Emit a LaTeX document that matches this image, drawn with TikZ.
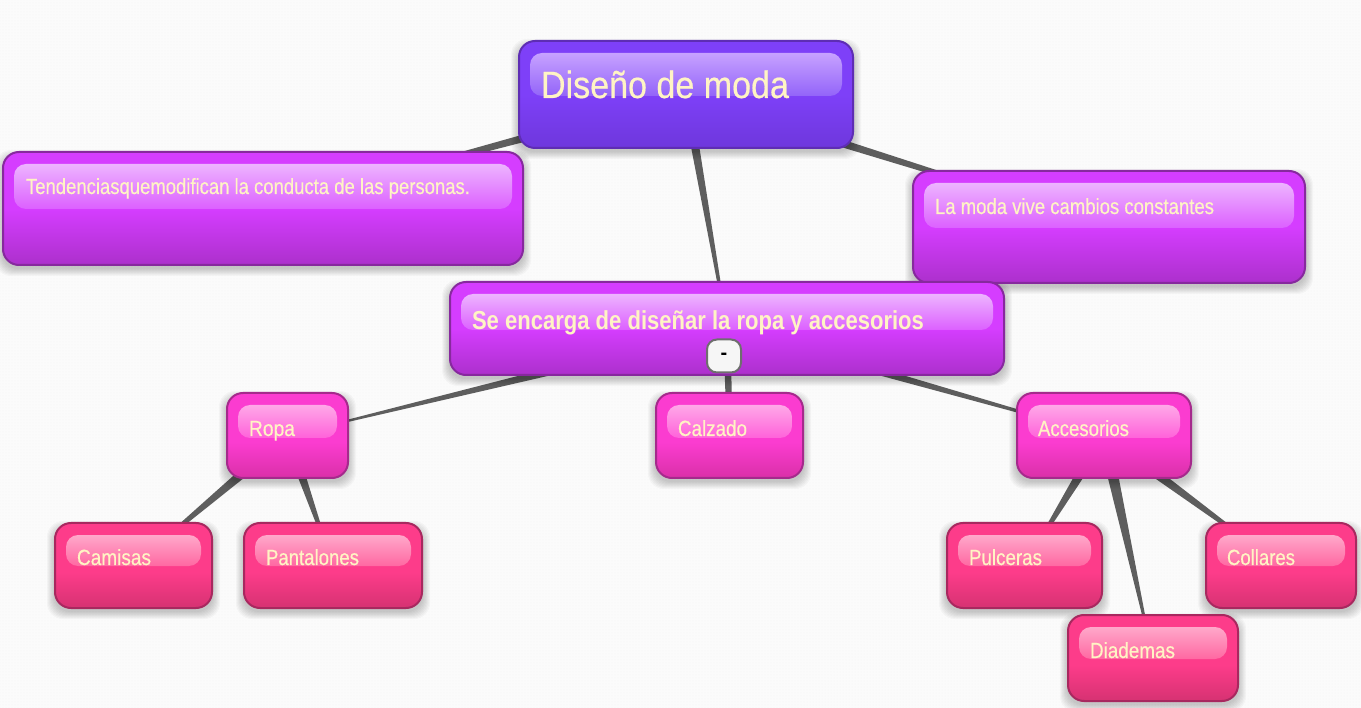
\documentclass[tikz,border=0pt]{standalone}
\usepackage{fontspec}
\setmainfont{Liberation Sans}
\newfontfamily\capfont[FakeBold=0.5]{Liberation Sans}
\usetikzlibrary{calc,backgrounds,patterns}
\pgfdeclarelayer{shadowlayer}
\pgfsetlayers{background,shadowlayer,main}
\definecolor{paper}{HTML}{FBFBFB}
\definecolor{grain}{HTML}{F5F5F5}
\definecolor{cream}{HTML}{FFF4C4}
\definecolor{linkgray}{HTML}{5E5E5E}
\definecolor{HTMLp1}{HTML}{5E2DB4}\definecolor{HTMLp2}{HTML}{7E40F8}\definecolor{HTMLp3}{HTML}{6E37DC}
\definecolor{HTMLp4}{HTML}{C7A2FF}\definecolor{HTMLp5}{HTML}{9364F9}
\definecolor{HTMLv1}{HTML}{87299E}\definecolor{HTMLv2}{HTML}{D53DFF}\definecolor{HTMLv3}{HTML}{AC30CC}
\definecolor{HTMLv4}{HTML}{EDB4FF}\definecolor{HTMLv5}{HTML}{DC60FF}
\definecolor{HTMLm1}{HTML}{A52A8C}\definecolor{HTMLm2}{HTML}{FB3CD0}\definecolor{HTMLm3}{HTML}{DA30A8}
\definecolor{HTMLm4}{HTML}{FFA8E8}\definecolor{HTMLm5}{HTML}{FF62DA}
\definecolor{HTMLr1}{HTML}{A8285F}\definecolor{HTMLr2}{HTML}{FD3C8A}\definecolor{HTMLr3}{HTML}{D63272}
\definecolor{HTMLr4}{HTML}{FFA8CA}\definecolor{HTMLr5}{HTML}{FF68A2}
\definecolor{HTMLb1}{HTML}{6E6E6E}\definecolor{HTMLb2}{HTML}{F6F6F6}
\pgfdeclareverticalshading{purplefill}{100bp}{color(0bp)=(HTMLp3);color(25bp)=(HTMLp3);color(50bp)=(HTMLp2);color(75bp)=(HTMLp2);color(100bp)=(HTMLp2)}
\pgfdeclareverticalshading{violetfill}{100bp}{color(0bp)=(HTMLv3);color(25bp)=(HTMLv3);color(50bp)=(HTMLv2);color(75bp)=(HTMLv2);color(100bp)=(HTMLv2)}
\pgfdeclareverticalshading{magentafill}{100bp}{color(0bp)=(HTMLm3);color(25bp)=(HTMLm3);color(46bp)=(HTMLm2);color(75bp)=(HTMLm2);color(100bp)=(HTMLm2)}
\pgfdeclareverticalshading{rosefill}{100bp}{color(0bp)=(HTMLr3);color(25bp)=(HTMLr3);color(46bp)=(HTMLr2);color(75bp)=(HTMLr2);color(100bp)=(HTMLr2)}
\tikzset{
  x=1pt,y=-1pt,
  plate/.style={rounded corners=16pt,inner sep=0pt,outer sep=0pt,line width=2pt,shade},
  purple/.style={plate,draw=HTMLp1,shading=purplefill},
  violet/.style={plate,draw=HTMLv1,shading=violetfill},
  magenta/.style={plate,draw=HTMLm1,shading=magentafill},
  rose/.style={plate,draw=HTMLr1,shading=rosefill},
  sheen/.style={rounded corners=12pt,inner sep=0pt,outer sep=0pt,draw=none},
  purplesheen/.style={sheen,top color=HTMLp4,bottom color=HTMLp5},
  violetsheen/.style={sheen,top color=HTMLv4,bottom color=HTMLv5},
  magentasheen/.style={sheen,top color=HTMLm4,bottom color=HTMLm5},
  rosesheen/.style={sheen,top color=HTMLr4,bottom color=HTMLr5},
  caption/.style={anchor=base west,inner sep=0pt,outer sep=0pt,text=cream},
  link/.style={fill=linkgray,draw=none},
  toggle/.style={rounded corners=10pt,draw=HTMLb1,line width=2pt,fill=HTMLb2,inner sep=0pt,
    minimum width=34pt,minimum height=33pt},
}
% name, level, x1, y1, x2, y2, sheen height
\newcommand{\mapbox}[7]{%
  \begin{pgfonlayer}{shadowlayer}
    \foreach \s in {1,...,8}{
      \fill[black,opacity=.028,rounded corners=16pt]
        ({#3-\s},{#4-\s+6}) rectangle ({#5+\s},{#6+\s+3});
    }
  \end{pgfonlayer}
  \node[#2,minimum width={(#5-(#3))*1pt},minimum height={(#6-(#4))*1pt}]
    (#1) at ({(#3+#5)/2},{(#4+#6)/2}) {};
  \node[#2sheen,minimum width={(#5-(#3)-22)*1pt},minimum height={#7*1pt}]
    (#1-sheen) at ({(#3+#5)/2},{#4+12+#7/2}) {};
}
% name, x, baseline y, font size, width, text
\newcommand{\mapcaption}[6]{%
  \node[caption] (#1-text) at (#2,#3)
    {\resizebox{#5pt}{\height}{\fontsize{#4}{#4}\selectfont #6}};
}
% from, to, half width at from, half width at to
\newcommand{\maplink}[4]{%
  \begin{pgfonlayer}{background}
    \path[link] ($(#1)!#3pt!90:(#2)$) -- ($(#1)!#3pt!-90:(#2)$)
      -- ($(#2)!#4pt!90:(#1)$) -- ($(#2)!#4pt!-90:(#1)$) -- cycle;
  \end{pgfonlayer}
}
\begin{document}
\begin{tikzpicture}
  \useasboundingbox (0,0) rectangle (1361,708);
  \begin{pgfonlayer}{background}
    \fill[paper] (0,0) rectangle (1361,708);
    \fill[pattern=dots,pattern color=grain] (0,0) rectangle (1361,708);
  \end{pgfonlayer}
  \mapbox{top}{purple}{519}{41}{853}{148}{43}
  \mapbox{trend}{violet}{3}{152}{523}{265}{45}
  \mapbox{change}{violet}{913}{171}{1305}{283}{45}
  \mapbox{mid}{violet}{450}{282}{1004}{375}{36}
  \mapbox{ropa}{magenta}{227}{393}{348}{478}{33}
  \mapbox{calzado}{magenta}{656}{393}{803}{478}{33}
  \mapbox{acc}{magenta}{1017}{393}{1191}{478}{33}
  \mapbox{camisas}{rose}{55}{523}{212}{608}{31}
  \mapbox{pant}{rose}{244}{523}{422}{608}{31}
  \mapbox{pulc}{rose}{947}{523}{1102}{608}{31}
  \mapbox{coll}{rose}{1206}{523}{1356}{608}{31}
  \mapbox{diad}{rose}{1068}{615}{1238}{701}{32}

  \mapcaption{top}{541}{98}{38}{248}{\capfont Diseño de moda}
  \mapcaption{trend}{26}{194}{22}{444}{\capfont Tendenciasquemodifican la conducta de las personas.}
  \mapcaption{change}{935}{214}{22}{279}{\capfont La moda vive cambios constantes}
  \mapcaption{mid}{472}{330}{26}{452}{\bfseries Se encarga de diseñar la ropa y accesorios}
  \mapcaption{ropa}{249}{436}{22}{46}{\capfont Ropa}
  \mapcaption{calzado}{678}{436}{22}{69}{\capfont Calzado}
  \mapcaption{acc}{1038}{436}{22}{91}{\capfont Accesorios}
  \mapcaption{camisas}{77}{565}{22}{74}{\capfont Camisas}
  \mapcaption{pant}{266}{565}{22}{93}{\capfont Pantalones}
  \mapcaption{pulc}{969}{565}{22}{73}{\capfont Pulceras}
  \mapcaption{coll}{1227}{565}{22}{68}{\capfont Collares}
  \mapcaption{diad}{1090}{658}{22}{85}{\capfont Diademas}

  \node[toggle] (minus) at (724,356) {\raisebox{-4pt}{\fontsize{20}{20}\selectfont\bfseries -}};

  \maplink{top}{trend}{5.5}{0.8}
  \maplink{top}{change}{5.5}{0.8}
  \maplink{top}{mid}{5}{0.9}
  \maplink{mid}{ropa}{6}{0.4}
  \maplink{mid}{calzado}{4}{2.5}
  \maplink{mid}{acc}{5.5}{0.5}
  \maplink{ropa}{camisas}{6}{0.5}
  \maplink{ropa}{pant}{5.5}{0.5}
  \maplink{acc}{pulc}{6}{0.5}
  \maplink{acc}{diad}{6.5}{0.3}
  \maplink{acc}{coll}{6}{0.5}
\end{tikzpicture}
\end{document}
